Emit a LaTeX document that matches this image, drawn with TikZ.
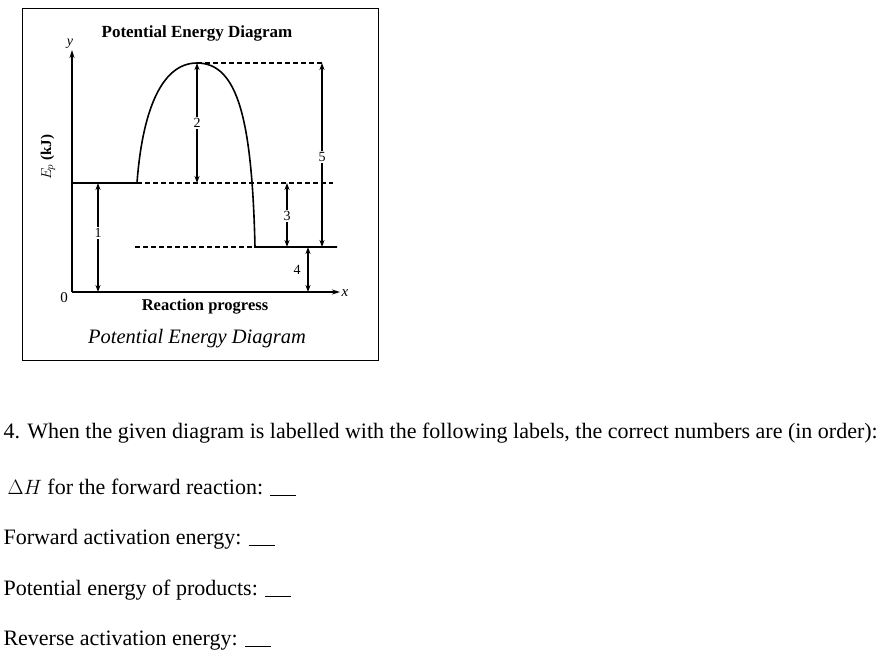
\documentclass[tikz,border=0pt]{standalone}
\usepackage{fontspec}
\setmainfont{Liberation Serif}
\usetikzlibrary{arrows.meta}
\begin{document}
\begin{tikzpicture}[x=1pt,y=-1pt,
  ln/.style={line width=1.6pt},
  dsh/.style={line width=1.1pt,dash pattern=on 5pt off 3pt},
  dim/.style={line width=1.2pt,{Stealth[length=7pt,width=5pt]}-{Stealth[length=7pt,width=5pt]}},
  lab/.style={font=\fontsize{14}{14}\selectfont,fill=white,inner sep=1pt},
  q/.style={anchor=west,font=\fontsize{22}{24}\selectfont}]
\useasboundingbox (0,0) rectangle (893,656);
\node[draw,line width=1.4pt,minimum width=356pt,minimum height=352pt,anchor=north west] (frame) at (22,8) {};
\node[font=\bfseries\fontsize{17}{18}\selectfont] (title) at (197,33) {Potential Energy Diagram};
\coordinate (O) at (72,292);
\coordinate (ytop) at (72,50);
\coordinate (xend) at (340,292);
\draw[ln,-{Stealth[length=8pt,width=5pt]}] (O) -- (ytop);
\draw[ln,-{Stealth[length=8pt,width=5pt]}] (O) -- (xend);
\node[font=\itshape\fontsize{14}{14}\selectfont] (ylab) at (70,44) {y};
\node[font=\itshape\fontsize{15}{15}\selectfont] (xlab) at (345,293) {x};
\node[font=\fontsize{15}{15}\selectfont] (zero) at (64,298) {0};
\node[rotate=90,font=\bfseries\fontsize{15}{15}\selectfont] (ep) at (48,157) {$E_{\!p}$ (kJ)};
\node[font=\bfseries\fontsize{16.5}{17}\selectfont] (rp) at (205,307) {Reaction progress};
\node[font=\itshape\fontsize{20.5}{22}\selectfont] (cap) at (197,339) {Potential Energy Diagram};
% curve
\coordinate (r0) at (72,183); \coordinate (r1) at (137,183);
\coordinate (pk) at (197,63);
\coordinate (p0) at (255,247); \coordinate (p1) at (337,247);
\draw[ln] (r0) -- (r1) .. controls (142,115) and (160,63) .. (pk)
  .. controls (238,63) and (252,120) .. (p0) -- (p1);
% dashed
\coordinate (d1b) at (322,63); \coordinate (d2b) at (333,183);
\coordinate (d3a) at (135,247);
\draw[dsh] (pk) -- (d1b);
\draw[dsh] (r1) -- (d2b);
\draw[dsh] (d3a) -- (p0);
% dimension arrows
\coordinate (a1t) at (98,183); \coordinate (a1b) at (98,292);
\draw[dim] (a1t) -- (a1b); \node[lab] (l1) at (98,233) {1};
\coordinate (a2t) at (197,63); \coordinate (a2b) at (197,183);
\draw[dim] (a2t) -- (a2b); \node[lab] (l2) at (197,123) {2};
\coordinate (a3t) at (287,183); \coordinate (a3b) at (287,247);
\draw[dim] (a3t) -- (a3b); \node[lab] (l3) at (287,216) {3};
\coordinate (a4t) at (308,247); \coordinate (a4b) at (308,292);
\draw[dim] (a4t) -- (a4b); \node[lab] (l4) at (297,270) {4};
\coordinate (a5t) at (322,63); \coordinate (a5b) at (322,247);
\draw[dim] (a5t) -- (a5b); \node[lab] (l5) at (322,157) {5};
% questions
\node[q] (q0) at (0,433) {4. When the given diagram is labelled with the following labels, the correct numbers are (in order):};
\node[q] (q1) at (4,487) {$\Delta H$ for the forward reaction: \rule[-1pt]{26pt}{0.7pt}};
\node[q] (q2) at (0,539) {Forward activation energy: \rule[-1pt]{26pt}{0.7pt}};
\node[q] (q3) at (0,590) {Potential energy of products: \rule[-1pt]{26pt}{0.7pt}};
\node[q] (q4) at (0,641) {Reverse activation energy: \rule[-1pt]{26pt}{0.7pt}};
\end{tikzpicture}
\end{document}
